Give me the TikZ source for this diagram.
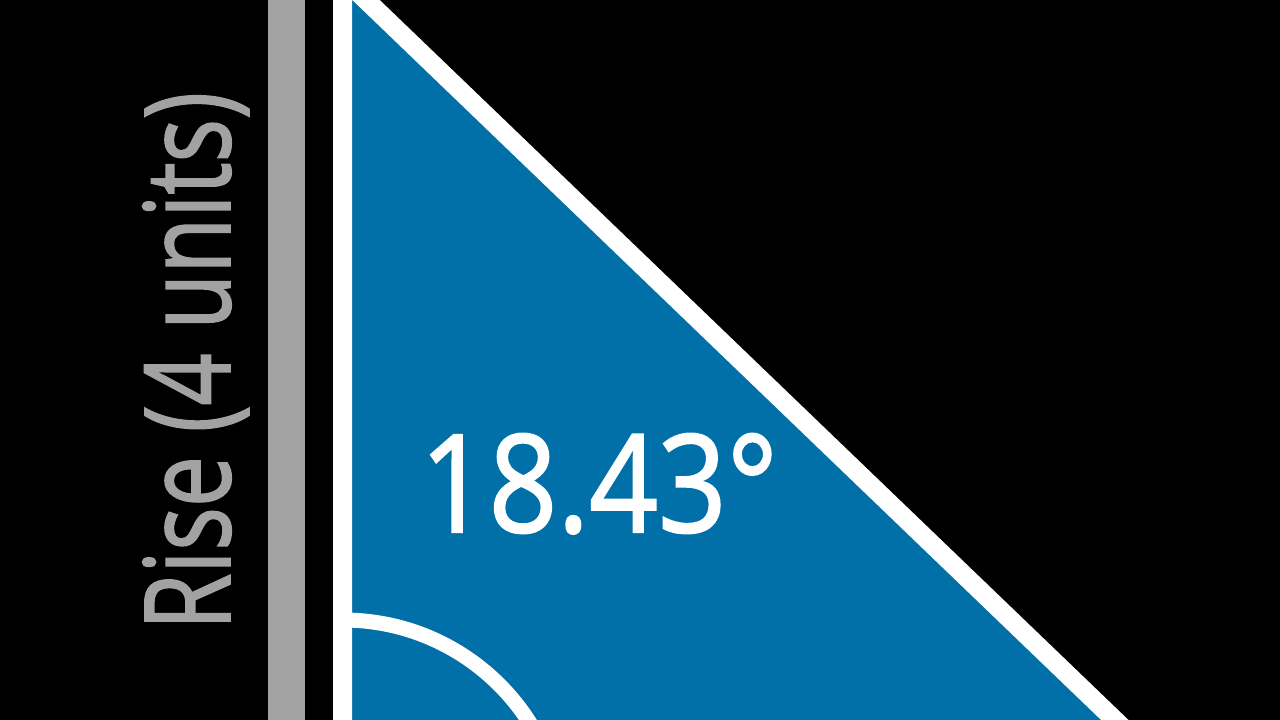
\documentclass[tikz,border=0pt]{standalone}
\usepackage{fontspec}
\setmainfont{Open Sans}
\newfontfamily\lblfont[FakeBold=1.6]{Open Sans}
\usepackage{graphicx}
\definecolor{triblue}{RGB}{2,112,168}
\definecolor{risegray}{RGB}{162,162,162}
\newlength\pxu
\setlength\pxu{0.75pt}
\newcommand\squeezetext[4]{\resizebox{#1\pxu}{#2\pxu}{\raisebox{0pt}[\fontcharht\font`#3][0pt]{#4}}}
\tikzset{
  edgeline/.style={draw=white, line width=14.25pt, line join=miter, miter limit=20},
  arcline/.style={draw=white, line width=11.25pt},
  lbl/.style={inner sep=0pt, outer sep=0pt, font=\fontsize{100}{100}\lblfont}
}
\begin{document}
\begin{tikzpicture}[x=0.75pt, y=-0.75pt]
\useasboundingbox (0,0) rectangle (1280,720);
\clip (0,0) rectangle (1280,720);
\fill[black] (0,0) rectangle (1280,720);
% grey bar
\fill[risegray] (268,-10) rectangle (305,730);
% triangle
\coordinate (apex) at (342.5,-22.6);
\coordinate (br) at (1198,800);
\coordinate (bl) at (342.5,800);
\path[fill=triblue, edgeline] (apex) -- (br) -- (bl) -- cycle;
% angle arc
\draw[arcline] (564,841) arc[start angle=0, end angle=90, radius=165.75pt];
% labels
\node[lbl, rotate=90, anchor=base west, text=risegray] (rise) at (230,630)
  {\squeezetext{538}{85}{R}{Rise (4 units)}};
\node[lbl, anchor=base west, text=white] (angle) at (420,532)
  {\squeezetext{358}{97}{1}{18.43°}};
\end{tikzpicture}
\end{document}
